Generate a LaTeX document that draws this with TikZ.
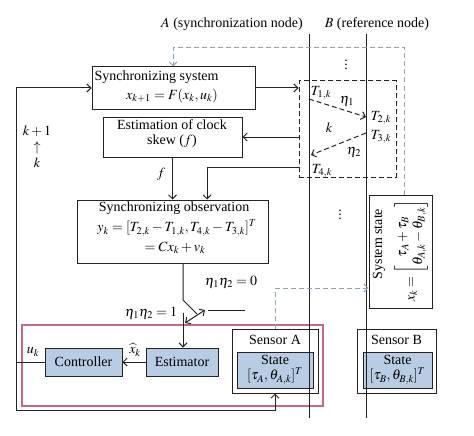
\documentclass[tikz,border=0pt]{standalone}
\usepackage{amsmath}
\usepackage{mathptmx}
\usepackage[no-math]{fontspec}
\setmainfont{Liberation Serif}
\usetikzlibrary{arrows.meta,calc}
\definecolor{pinkc}{HTML}{C9648A}
\definecolor{dashb}{HTML}{8CA0BE}
\definecolor{fillb}{HTML}{B8CCE4}
\definecolor{linec}{HTML}{222222}
\begin{document}
\begin{tikzpicture}[x=1pt,y=-1pt,
  font=\fontsize{14}{16}\selectfont,
  >={Straight Barb[length=4pt,width=8pt]},
  line width=1pt,
  box/.style={draw=linec, line width=1pt, inner sep=0pt},
  bluebox/.style={draw=linec, line width=1pt, inner sep=0pt, fill=fillb},
  lbl/.style={inner sep=0pt},
  ln/.style={draw=linec, line width=1pt},
  bdash/.style={draw=dashb, dash pattern=on 5pt off 3pt, line width=1pt},
  kdash/.style={dash pattern=on 5pt off 3pt}]
\useasboundingbox (0,0) rectangle (474,436);

% headers
\node[lbl] (hA) at (232,24) {$A$ (synchronization node)};
\node[lbl] (hB) at (377,24) {$B$ (reference node)};

% pink box
\node[draw=pinkc, line width=1.1pt, minimum width=301pt, minimum height=81pt, inner sep=0pt] (pink) at (172.5,365.5) {};

% boxes
\node[box, minimum width=163pt, minimum height=42pt] (sync) at (173.5,88) {};
\node[lbl, anchor=west] (synct) at (94,77) {Synchronizing system};
\node[lbl] (synce) at (172,96) {$x_{k+1} = F(x_k, u_k)$};

\node[box, minimum width=139pt, minimum height=40pt] (est) at (172.5,137) {};
\node[lbl] (estt1) at (172,125) {Estimation of clock};
\node[lbl] (estt2) at (172,141) {skew ($f$)};

\node[box, minimum width=191pt, minimum height=63pt] (obs) at (172.5,231.5) {};
\node[lbl] (obs1) at (174,208) {Synchronizing observation};
\node[lbl] (obs2) at (177,228) {$y_k = [T_{2,k} - T_{1,k}, T_{4,k} - T_{3,k}]^T$};
\node[lbl] (obs3) at (175,248) {$= Cx_k + v_k$};

\node[box, kdash, minimum width=97pt, minimum height=96pt] (dbox) at (347.5,129) {};

\node[box, minimum width=63pt, minimum height=113pt] (sysst) at (400.5,251.5) {};
\node[lbl, rotate=90] (syst1) at (379,244) {System state};
\node[lbl, rotate=90] (syst2) at (411,251) {$x_k = \begin{bmatrix}\tau_A + \tau_B\\ \theta_{A,k} - \theta_{B,k}\end{bmatrix}$};

\node[bluebox, minimum width=77pt, minimum height=28pt] (ctrl) at (83.5,362) {Controller};
\node[bluebox, minimum width=72pt, minimum height=28pt] (estim) at (182,362) {Estimator};

\node[box, fill=white, minimum width=86pt, minimum height=64pt] (sensA) at (275,361) {};
\node[lbl] (sensAt) at (275,340) {Sensor A};
\node[bluebox, minimum width=76pt, minimum height=36pt, align=center, font=\fontsize{14}{15}\selectfont] (stA) at (275,370) {State\\$[\tau_A, \theta_{A,k}]^T$};

\node[box, fill=white, minimum width=79pt, minimum height=64pt] (sensB) at (396.5,361) {};
\node[lbl] (sensBt) at (396.5,340) {Sensor B};
\node[bluebox, minimum width=69pt, minimum height=36pt, align=center, font=\fontsize{14}{15}\selectfont] (stB) at (397.5,370) {State\\$[\tau_B, \theta_{B,k}]^T$};

% time lines
\coordinate (At) at (309,34); \coordinate (Ab) at (309,418);
\coordinate (Bt) at (366,34); \coordinate (Bb) at (366,418);
\draw[ln] (At) -- (Ab);
\draw[ln] (Bt) -- (Bb);

% message exchange
\coordinate (m1) at (309,99); \coordinate (m2) at (366,117);
\coordinate (m3) at (366,133); \coordinate (m4) at (311,155);
\draw[ln,kdash,->] (m1) -- (m2);
\draw[ln,kdash,->] (m3) -- (m4);
\node[lbl] (T1) at (321,93) {$T_{1,k}$};
\node[lbl] (e1) at (347,101) {$\eta_1$};
\node[lbl] (T2) at (381,118) {$T_{2,k}$};
\node[lbl] (T3) at (381,137) {$T_{3,k}$};
\node[lbl] (kk) at (329,128) {$k$};
\node[lbl] (e2) at (354,152) {$\eta_2$};
\node[lbl] (T4) at (322,171) {$T_{4,k}$};
\node[lbl] (d1) at (346,62) {$\vdots$};
\node[lbl] (d2) at (340,212) {$\vdots$};

% connectors
\draw[ln,->] (sync.east) -- (sync.east -| dbox.west);
\draw[ln,->] (dbox.west |- est.east) -- (est.east);
\coordinate (q4) at (207,167);
\draw[ln,->] (q4 -| dbox.west) -- (q4) -- (q4 |- obs.north);
\draw[ln,->] (est.south) -- (est.south |- obs.north);
\node[lbl] (flab) at (161,174) {$f$};

% switch
\coordinate (s0) at (183,263);
\coordinate (s1) at (183,300);
\coordinate (s2) at (197,314);
\draw[ln] (s0) -- (s1) -- (s2);
\coordinate (da) at (185,323); \coordinate (db) at (205,310);
\draw[ln,<->] (da) -- (db);
\coordinate (c0a) at (208,310); \coordinate (c0b) at (245,310);
\draw[ln] (c0a) -- (c0b);
\coordinate (c1) at (183,313);
\draw[ln,->] (c1) -- (c1 |- estim.north);
\node[lbl] (sw0) at (231,282) {$\eta_1\eta_2 = 0$};
\node[lbl] (sw1) at (151,313) {$\eta_1\eta_2 = 1$};

\draw[ln,->] (estim.west) -- (ctrl.east);
\node[lbl] (xh) at (135,350) {$\widehat{x}_k$};
\node[lbl] (uk) at (33,352) {$u_k$};

% feedback loop
\coordinate (j) at (16,362);
\coordinate (jb) at (16,410);
\draw[ln] (ctrl.west) -- (j);
\draw[ln,->] (j) |- (sync.west);
\draw[ln,->] (j) -- (jb) -| (sensA.south);
\node[lbl, align=center, font=\fontsize{14}{16}\selectfont] (kl) at (37,147) {$k+1$\\$\uparrow$\\$k$};

% blue dashed
\coordinate (tq1) at (404,48);
\coordinate (tq2) at (173,48);
\draw[bdash,->] (tq1 |- sysst.north) -- (tq1) -- (tq2) -- (tq2 |- sync.north);
\coordinate (q3) at (275,288);
\draw[bdash,->] (sensA.north) -- (q3) -- (q3 -| sysst.west);
\end{tikzpicture}
\end{document}
